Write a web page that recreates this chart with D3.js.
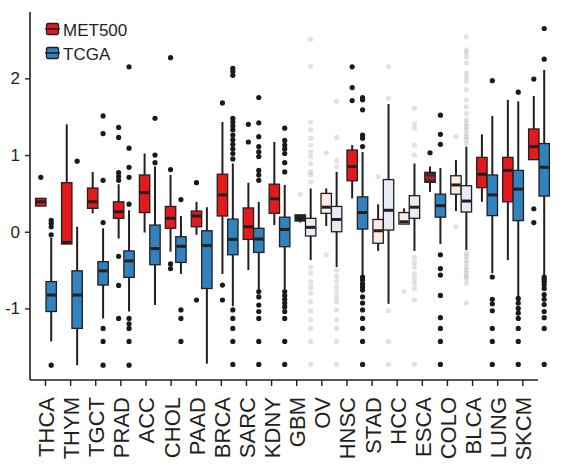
<!DOCTYPE html>
<html>
<head>
<meta charset="utf-8">
<script src="https://cdn.jsdelivr.net/npm/d3@7"></script>
<style>
  body { margin: 0; background: #fff; }
  svg { display: block; font-family: "Liberation Sans", Arial, Helvetica, sans-serif; }
</style>
</head>
<body>
<div id="chart"></div>
<script>
const categories = ["THCA", "THYM", "TGCT", "PRAD", "ACC", "CHOL", "PAAD", "BRCA", "SARC", "KDNY",
                    "GBM", "OV", "HNSC", "STAD", "HCC", "ESCA", "COLO", "BLCA", "LUNG", "SKCM"];
const fadedCats = ["GBM", "OV", "STAD", "HCC", "COLO"];
const yTicks = [-1, 0, 1, 2];

// [lower whisker, q1, median, q3, upper whisker]
const met500Stats = [
  [0.335, 0.335, 0.39, 0.435, 0.435],
  [-0.16, -0.16, -0.14, 0.64, 1.40],
  [0.24, 0.305, 0.39, 0.57, 0.78],
  [-0.09, 0.175, 0.26, 0.39, 0.62],
  [-0.01, 0.25, 0.51, 0.74, 1.02],
  [-0.26, 0.045, 0.175, 0.33, 0.74],
  [-0.04, 0.065, 0.205, 0.27, 0.39],
  [-0.55, 0.205, 0.48, 0.75, 1.43],
  [-0.50, -0.10, 0.065, 0.31, 0.64],
  [0.087, 0.24, 0.43, 0.62, 1.17],
  [0.12, 0.14, 0.17, 0.22, 0.22],
  [0.074, 0.24, 0.32, 0.50, 0.565],
  [0.435, 0.665, 0.85, 1.065, 1.13],
  [-0.25, -0.15, 0.013, 0.16, 0.357],
  [0.10, 0.10, 0.13, 0.25, 0.305],
  [0.52, 0.645, 0.70, 0.775, 0.85],
  [0.27, 0.49, 0.61, 0.73, 0.935],
  [0.39, 0.575, 0.75, 0.97, 1.27],
  [-0.37, 0.39, 0.80, 0.97, 1.72],
  [0.94, 0.94, 1.11, 1.34, 1.77]
];
const met500Outliers = [
  [0.71], [], [], [1.36, 1.23, 0.77, 0.72, 0.67, -0.32, -0.70, -1.13], [],
  [2.27, 0.81, -0.42, -0.48], [0.64, -0.89], [1.68, -0.695, -0.89], [1.40, 1.17], [],
  [0.49], [1.03, -0.30], [2.15, 1.88, 1.71], [0.72], [-0.78],
  [1.03], [1.24, 0.065], [], [], [1.99, 0.30, 0.12]
];

const tcgaStats = [
  [-1.43, -1.04, -0.825, -0.65, -0.08],
  [-1.74, -1.26, -0.825, -0.51, 0.065],
  [-1.13, -0.695, -0.51, -0.39, 0.045],
  [-1.04, -0.595, -0.38, -0.25, 0.28],
  [-0.955, -0.43, -0.22, 0.087, 0.85],
  [-0.55, -0.40, -0.19, -0.065, 0.205],
  [-1.72, -0.74, -0.18, 0.013, 0.32],
  [-0.97, -0.30, -0.10, 0.165, 0.89],
  [-0.75, -0.27, -0.095, 0.045, 0.39],
  [-0.75, -0.195, 0.03, 0.19, 0.61],
  [-0.37, -0.056, 0.057, 0.175, 0.565],
  [-0.46, 0.0, 0.16, 0.33, 0.78],
  [-0.565, 0.035, 0.25, 0.455, 1.04],
  [-0.94, 0.022, 0.28, 0.68, 1.665],
  [-0.25, 0.175, 0.32, 0.47, 0.89],
  [-0.16, 0.19, 0.34, 0.49, 0.83],
  [-0.24, 0.257, 0.40, 0.60, 1.11],
  [-0.54, 0.21, 0.48, 0.74, 1.51],
  [-0.84, 0.145, 0.555, 0.80, 1.70],
  [-0.565, 0.465, 0.84, 1.15, 2.11]
];
const tcgaOutliers = [
  [0.15, 0.11, 0.065, -0.04, -1.74],
  [0.92],
  [1.51, 1.28, 0.67, 0.12, -1.26, -1.43, -1.74],
  [2.15, 1.09, 0.84, 0.71, 0.36, -1.13, -1.20, -1.26, -1.43, -1.74],
  [1.48, 1.0, 0.9],
  [0.42, -1.02, -1.13, -1.43],
  [],
  [2.13, 2.09, 2.04, 1.48, 1.43, 1.38, 1.33, 1.26, 1.20, 1.14, 1.08, 1.02, 0.95, -1.02, -1.13, -1.26, -1.43, -1.73],
  [1.75, 1.42, 1.24, 1.11, 1.04, 0.98, 0.80, 0.74, 0.67, -0.78, -0.85, -0.955, -1.04, -1.13, -1.43, -1.73],
  [1.35, 1.19, 1.13, 1.08, 1.02, 0.90, 0.78, -0.78, -0.83, -0.88, -0.93, -0.98, -1.04, -1.13, -1.43, -1.73],
  [2.51, 2.16, 1.43, 1.33, 1.22, 1.13, 1.04, 0.98, 0.89, 0.78, 0.74, 0.65, -0.46, -0.54, -0.65, -0.72, -0.80, -0.91, -1.03, -1.15, -1.26, -1.43, -1.73],
  [1.70, 1.23, 0.93, 0.85, -0.50, -0.58, -0.65, -0.72, -0.78, -0.85, -0.91, -1.02, -1.15, -1.26, -1.43, -1.73],
  [1.75, 1.72, 1.59, 1.26, 1.22, 1.11, -0.59, -0.63, -0.68, -0.72, -0.76, -0.85, -0.93, -1.02, -1.13, -1.26, -1.43, -1.73],
  [2.15, 1.74, -1.03, -1.43, -1.73],
  [1.61, 1.41, 1.35, 1.13, 1.0, -0.33, -0.40, -0.46, -0.55, -0.61, -0.67, -0.74, -0.89, -1.73],
  [1.52, 1.27, 1.14, -0.30, -0.48, -0.565, -0.83, -1.12, -1.26, -1.43, -1.73],
  [2.54, 2.37, 2.33, 2.28, 2.20, 2.07, 2.02, 1.96, 1.85, 1.72, 1.63, 1.54, 1.46, 1.41, 1.37, 1.33, 1.28, 1.24, 1.20, 1.15,
   -0.28, -0.32, -0.37, -0.41, -0.46, -0.50, -0.54, -0.58, -0.61, -0.67, -0.93],
  [1.97, -0.59, -0.88, -0.94, -1.03, -1.26, -1.43, -1.73],
  [1.82, -0.87, -0.93, -1.0, -1.06, -1.13, -1.26, -1.43, -1.73],
  [2.65, 2.25, -0.59, -0.62, -0.65, -0.69, -0.74, -0.82, -0.88, -0.95, -1.04, -1.12, -1.26, -1.73]
];

const W = 570, H = 474;
const ink = "#231f20";
const colors = {
  MET500: { fill: "#e31a1c", faded: "#fcebe1" },
  TCGA:   { fill: "#3182bd", faded: "#e7ebf5" }
};

const svg = d3.select("#chart").append("svg")
  .attr("width", W).attr("height", H);

const y = d3.scaleLinear().domain([-1.933, 2.865]).range([380, 12]);
// axis ticks and the box pairs don't line up exactly in the original figure
const xAxisScale = d3.scalePoint().domain(categories).range([45, 522.3]);
const xBox = d3.scalePoint().domain(categories).range([46, 539]);
const boxW = 10.4;
const dodge = { MET500: -5.2, TCGA: 5.2 };

const groups = [];
categories.forEach((c, i) => {
  groups.push({ cat: c, grp: "MET500", s: met500Stats[i], out: met500Outliers[i] });
  groups.push({ cat: c, grp: "TCGA", s: tcgaStats[i], out: tcgaOutliers[i] });
});

const isFaded = d => fadedCats.includes(d.cat);
const cx = d => xBox(d.cat) + dodge[d.grp];
const boxFill = d => {
  if (d.grp === "MET500" && d.cat === "GBM") return "#2a2426";
  if (d.grp === "MET500" && d.cat === "ESCA") return "#4a2629";
  return isFaded(d) ? colors[d.grp].faded : colors[d.grp].fill;
};
const medColor = d => (d.grp === "MET500" && d.cat === "ESCA") ? "#b3232e" : ink;

// outliers
const pts = groups.flatMap(d => d.out.map(v => ({ d, v })));
svg.append("g").selectAll("circle").data(pts).enter()
  .append("circle")
  .attr("cx", p => cx(p.d))
  .attr("cy", p => y(p.v))
  .attr("r", 2.6)
  .attr("fill", p => isFaded(p.d) ? "rgba(150,150,150,0.28)" : "#1a1a1a");

const box = svg.append("g").selectAll("g").data(groups).enter().append("g");

box.append("line")
  .attr("x1", cx).attr("x2", cx)
  .attr("y1", d => y(d.s[0])).attr("y2", d => y(d.s[4]))
  .attr("stroke", ink).attr("stroke-width", 2);

box.append("rect")
  .attr("x", d => cx(d) - boxW / 2)
  .attr("width", boxW)
  .attr("y", d => y(d.s[3]))
  .attr("height", d => Math.max(1, y(d.s[1]) - y(d.s[3])))
  .attr("fill", boxFill)
  .attr("stroke", ink).attr("stroke-width", 1.3);

box.append("line")
  .attr("x1", d => cx(d) - boxW / 2 + 0.6).attr("x2", d => cx(d) + boxW / 2 - 0.6)
  .attr("y1", d => y(d.s[2])).attr("y2", d => y(d.s[2]))
  .attr("stroke", medColor).attr("stroke-width", 3);

// axes
const yAxis = svg.append("g")
  .attr("transform", "translate(30,0)")
  .call(d3.axisLeft(y).tickValues(yTicks).tickSize(5).tickPadding(5).tickFormat(d3.format("d")));
yAxis.select(".domain").attr("d", "M0,12V380").attr("stroke", ink).attr("stroke-width", 1.6);
yAxis.selectAll(".tick line").attr("stroke", ink).attr("stroke-width", 1.4);
yAxis.selectAll(".tick text").attr("font-size", 17).attr("fill", ink)
  .attr("font-family", "'Liberation Sans', Arial, sans-serif")
  .text(d => d < 0 ? "-" + Math.abs(d) : d);

const xAxis = svg.append("g")
  .attr("transform", "translate(0,380)")
  .call(d3.axisBottom(xAxisScale).tickSize(6).tickPadding(4));
xAxis.select(".domain").attr("d", "M30,0H538").attr("stroke", ink).attr("stroke-width", 1.6);
xAxis.selectAll(".tick line").attr("stroke", ink).attr("stroke-width", 1.4);
xAxis.selectAll(".tick text")
  .attr("font-size", 22)
  .attr("fill", ink)
  .attr("font-family", "'Liberation Sans', Arial, sans-serif")
  .attr("text-anchor", "end")
  .attr("dy", null)
  .attr("dominant-baseline", "central")
  .attr("transform", "translate(1,17) rotate(-90)")
  .attr("x", 0).attr("y", 0);

// legend
const legend = svg.append("g").attr("transform", "translate(45,23)");
["MET500", "TCGA"].forEach((g, i) => {
  const row = legend.append("g").attr("transform", `translate(0,${i * 24})`);
  row.append("line").attr("x1", 0).attr("x2", 15).attr("y1", 6).attr("y2", 6)
    .attr("stroke", ink).attr("stroke-width", 1.4);
  row.append("rect").attr("x", 1.5).attr("y", 0.5).attr("width", 12).attr("height", 11)
    .attr("rx", 1.5).attr("fill", colors[g].fill).attr("stroke", ink).attr("stroke-width", 1.3);
  row.append("line").attr("x1", 2).attr("x2", 13).attr("y1", 6).attr("y2", 6)
    .attr("stroke", ink).attr("stroke-width", 1.6);
  row.append("text").attr("x", 18).attr("y", 13)
    .attr("font-size", 17).attr("fill", ink).text(g);
});
</script>
</body>
</html>
